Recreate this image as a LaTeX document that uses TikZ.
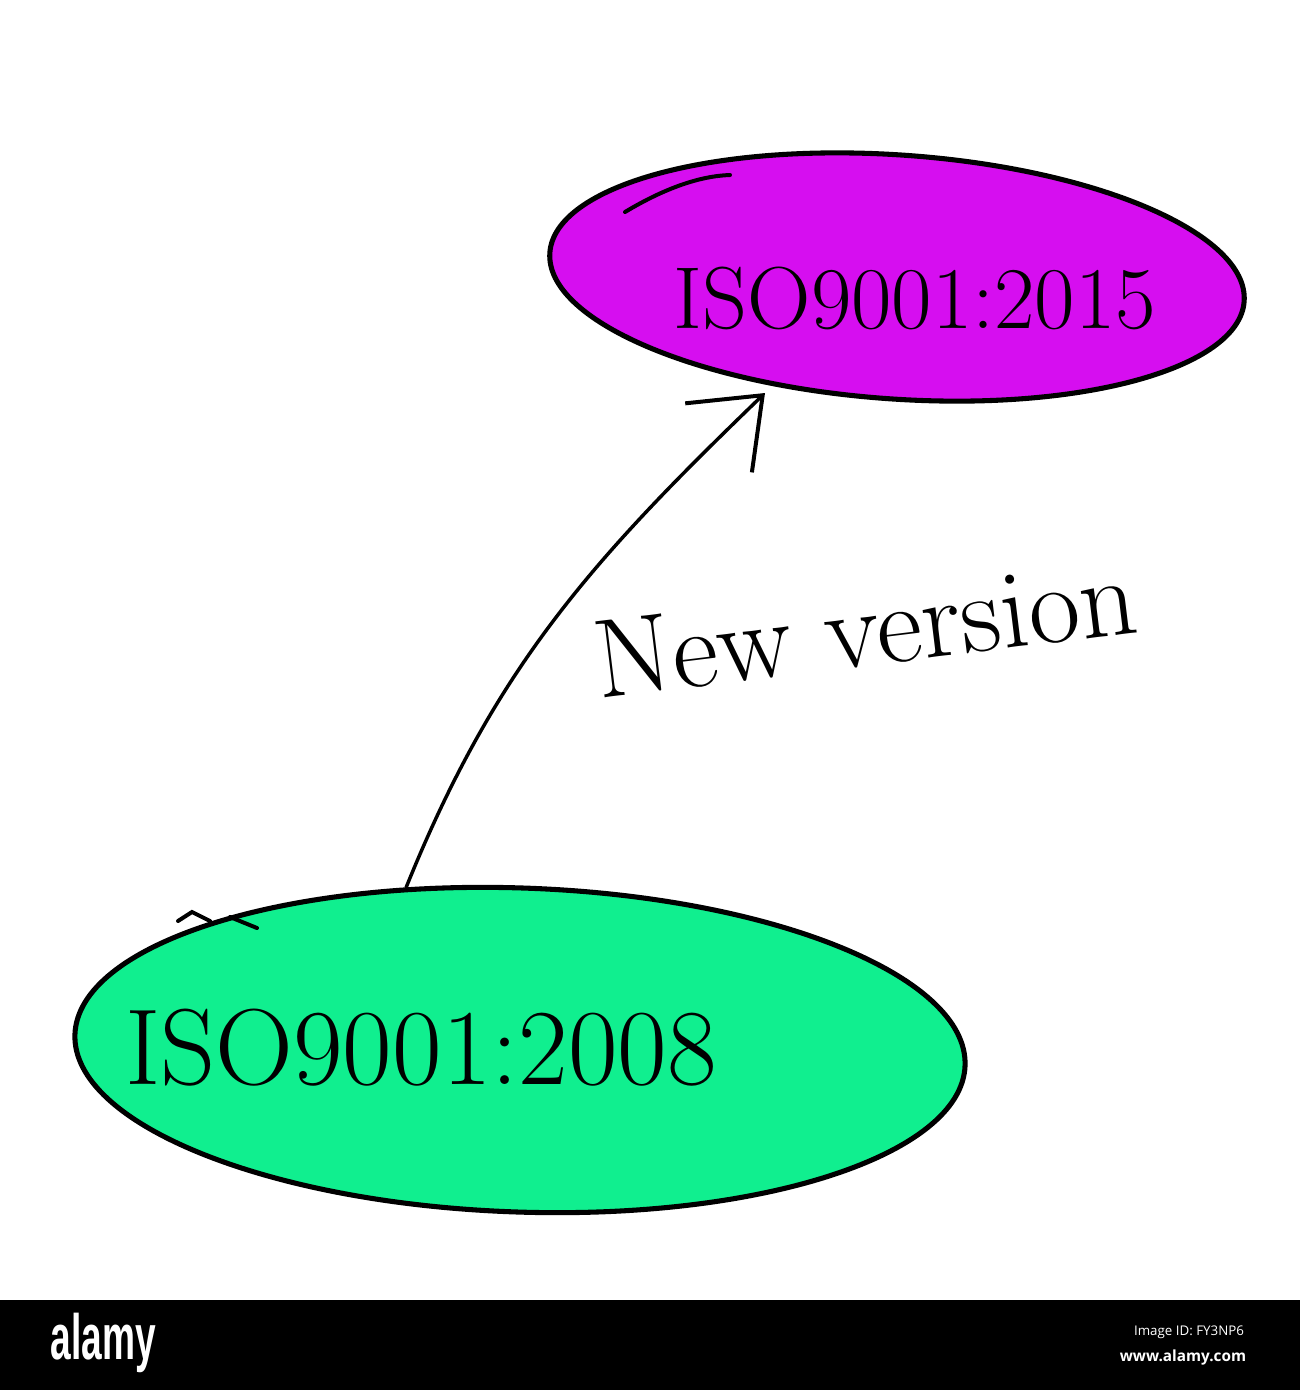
\documentclass[tikz,border=0pt]{standalone}
\usepackage{fontspec}
\usetikzlibrary{shapes.geometric,arrows.meta}
\newfontfamily\barfont{Open Sans}
\newfontfamily\logofont{Liberation Sans}
\definecolor{isopurple}{RGB}{214,14,240}
\definecolor{isogreen}{RGB}{16,239,143}

\tikzset{every picture/.style={line width=0.75pt}}
\tikzset{
  version/.style={ellipse, draw=black, line width=3.8pt, inner sep=0pt},
  hand/.style={black, line width=3pt, line cap=round},
  isolabel/.style={inner sep=0pt},
}

\begin{document}
\begin{tikzpicture}[x=0.75pt,y=0.75pt,yscale=-1,xscale=1]
		\useasboundingbox (0,0) rectangle (1300,1390);
		\fill[white] (0,0) rectangle (1300,1300);
		
		%Shape: Ellipse [id:v2015]
		\node[version, fill=isopurple, minimum width=522pt, minimum height=183pt, rotate=-4] (v2015) at (897,277) {};
		%Shape: Ellipse [id:v2008]
		\node[version, fill=isogreen, minimum width=668pt, minimum height=243pt, rotate=-2] (v2008) at (520,1050) {};
		
		%extra pen strokes
		\draw[hand] (625,212) .. controls (665,188) and (700,176) .. (730,175);
		\draw[hand] (178,921) -- (192,912) -- (210,921);
		\draw[hand] (230,917) -- (257,928);
		
		% Text Node
		\node[isolabel, font=\fontsize{66}{66}\selectfont] (t2015) at (915,298) {ISO9001:2015};
		% Text Node
		\node[isolabel, font=\fontsize{81}{81}\selectfont] (t2008) at (421,1048) {ISO9001:2008};
		
		%Curve Lines [id:newversion]
		\coordinate (tip) at (765,393);
		\draw[hand, line width=2.6pt, -{Straight Barb[length=46pt,width=72pt,line width=3pt]}] (v2008.127) to[out=-68,in=136] (tip);
		
		% Text Node
		\node[isolabel, font=\fontsize{84}{84}\selectfont, rotate=7] (nv) at (865,628) {New version};
		
		%bottom bar
		\fill[black] (0,1300) rectangle (1300,1390);
		\node[isolabel, white, font=\logofont\bfseries\fontsize{48}{48}\selectfont, anchor=west] (logo) at (50,1343) {\scalebox{0.58}[1]{alamy}};
		\node[isolabel, white, font=\barfont\fontsize{10}{10}\selectfont] (imgid) at (1189,1332) {Image ID: FY3NP6};
		\node[isolabel, white, font=\barfont\bfseries\fontsize{11.5}{11.5}\selectfont] (site) at (1183,1357) {www.alamy.com};
		
\end{tikzpicture}
\end{document}
